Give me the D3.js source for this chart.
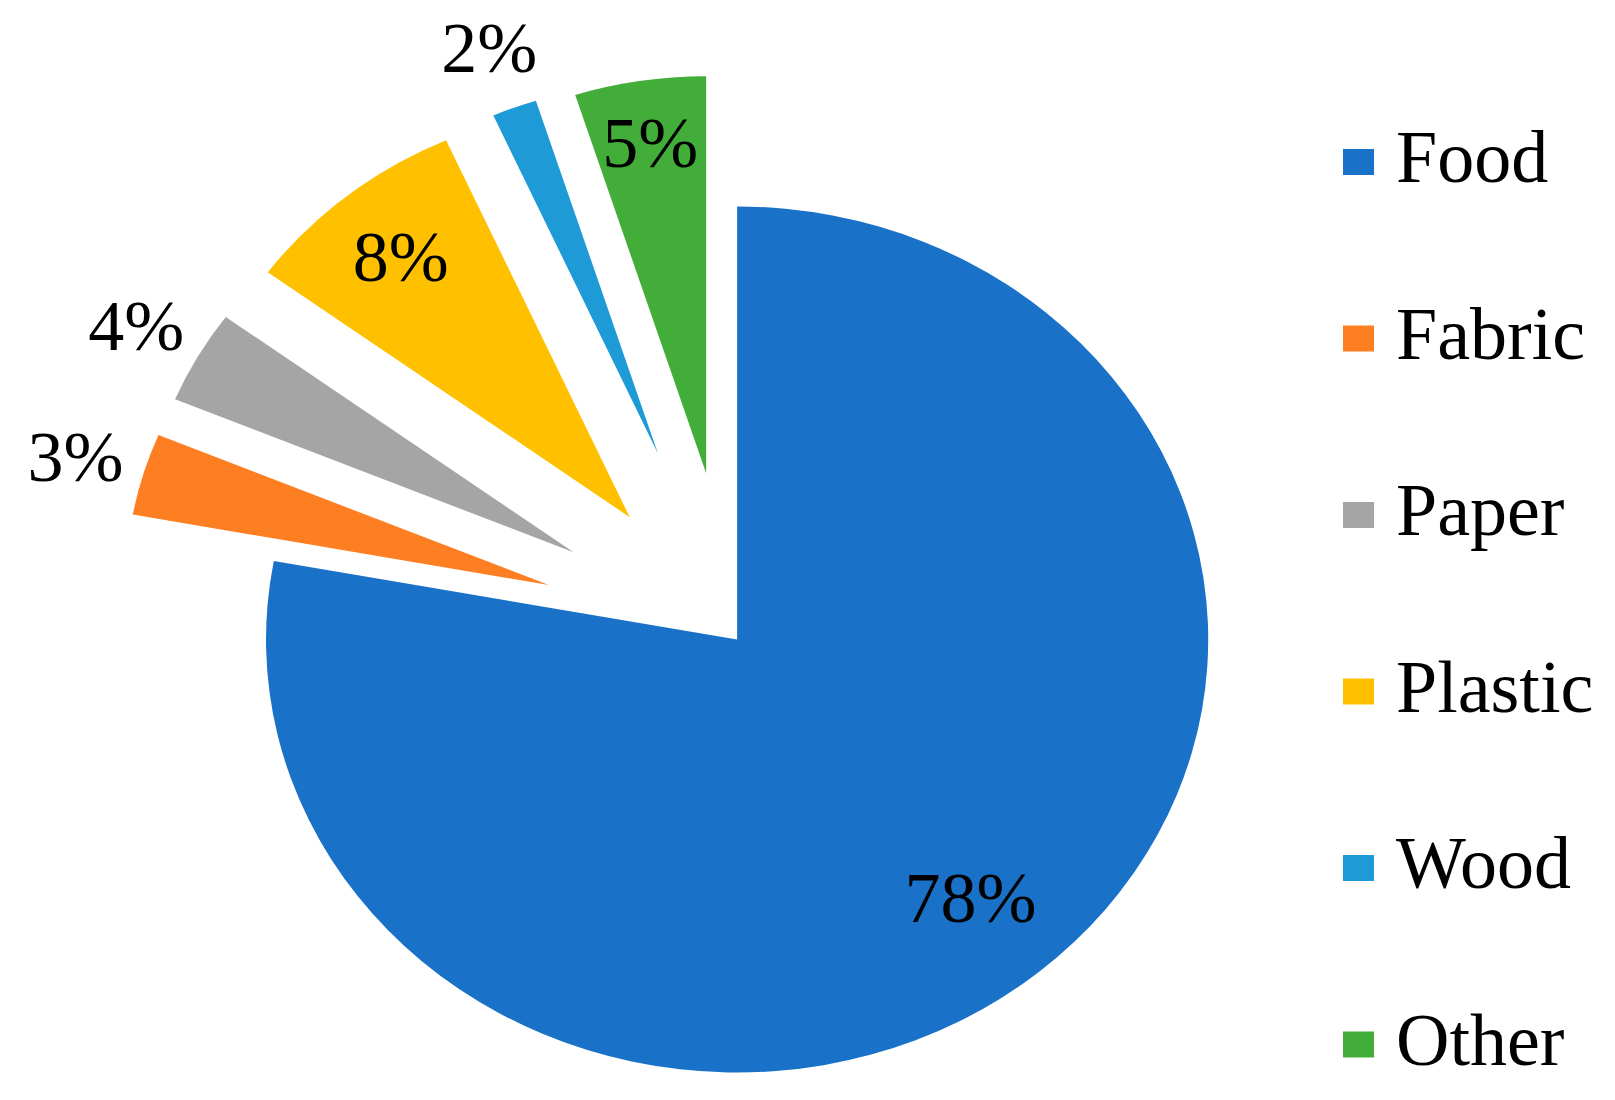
<!DOCTYPE html>
<html>
<head>
<meta charset="utf-8">
<title>Waste composition</title>
<script src="https://cdn.jsdelivr.net/npm/d3@7"></script>
<style>
  html, body { margin: 0; background: #ffffff; }
  svg { display: block; }
  .slice-label, .legend-label { font-family: "Liberation Serif", "Times New Roman", serif; fill: #000000; }
</style>
</head>
<body>
<div id="chart"></div>
<script>
// Chart data (shares, labels are rounded).
const categories = ["Food", "Fabric", "Paper", "Plastic", "Wood", "Other"];
const shares = [77.9, 3.4, 3.8, 8.2, 1.8, 4.9];
const sliceColors = ["#1971c8", "#fe7f22", "#a5a5a5", "#ffc000", "#1e9bd7", "#43ad3a"];

// Point explosion per slice (fraction of radius), and the smaller radius of the pulled-out slices.
const explodeRatio = [0.012, 0.409, 0.39, 0.351, 0.45, 0.379];
const radiusRatio = [1, 0.898, 0.917, 0.954, 0.855, 0.917];

(function drawExplodedPie() {
  "use strict";

  const width = 1615;
  const height = 1100;
  const center = { x: 733.5, y: 635.5 };
  const radius = 433;
  // The original picture is stretched horizontally.
  const stretchX = 1.088;

  const data = categories.map(function buildDatum(name, i) {
    return { name: name, value: shares[i], color: sliceColors[i], explode: explodeRatio[i], scale: radiusRatio[i] };
  });

  const pie = d3.pie()
    .sort(null)
    .startAngle(0)
    .value(function sliceValue(d) { return d.value; });
  const arcs = pie(data);

  const arc = d3.arc()
    .innerRadius(0)
    .outerRadius(function outer(d) { return radius * d.data.scale; });

  // Apex of a slice after explosion, in unstretched pie coordinates.
  function sliceApex(d) {
    const mid = (d.startAngle + d.endAngle) / 2;
    const dist = radius * d.data.explode;
    return [Math.sin(mid) * dist, -Math.cos(mid) * dist];
  }

  // Small slices get their label outside, the others inside at a fixed depth.
  function labelPoint(d) {
    const mid = (d.startAngle + d.endAngle) / 2;
    const apex = sliceApex(d);
    const r = radius * d.data.scale;
    const dist = d.data.value >= 4.5 ? radius * 0.774 : r + 65;
    return [
      center.x + stretchX * (apex[0] + Math.sin(mid) * dist),
      center.y + apex[1] - Math.cos(mid) * dist
    ];
  }

  const svg = d3.select("#chart")
    .append("svg")
    .attr("width", width)
    .attr("height", height)
    .attr("viewBox", "0 0 " + width + " " + height);

  const pieGroup = svg.append("g")
    .attr("transform", "translate(" + center.x + "," + center.y + ") scale(" + stretchX + ",1)");

  pieGroup.selectAll(".slice")
    .data(arcs)
    .enter()
    .append("path")
    .attr("class", "slice")
    .attr("transform", function offset(d) {
      const apex = sliceApex(d);
      return "translate(" + apex[0] + "," + apex[1] + ")";
    })
    .attr("d", arc)
    .attr("fill", function fill(d) { return d.data.color; });

  svg.selectAll(".slice-label")
    .data(arcs)
    .enter()
    .append("text")
    .attr("class", "slice-label")
    .attr("x", function lx(d) { return labelPoint(d)[0]; })
    .attr("y", function ly(d) { return labelPoint(d)[1]; })
    .attr("dy", "0.35em")
    .attr("text-anchor", "middle")
    .attr("font-size", 72)
    .text(function labelText(d) { return Math.round(d.data.value) + "%"; });

  // Legend on the right.
  const legendY = d3.scalePoint()
    .domain(categories)
    .range([162, 1044.5]);

  const legend = svg.append("g").attr("class", "legend");
  const items = legend.selectAll(".legend-item")
    .data(data)
    .enter()
    .append("g")
    .attr("class", "legend-item")
    .attr("transform", function place(d) { return "translate(1343," + legendY(d.name) + ")"; });

  items.append("rect")
    .attr("x", 0)
    .attr("y", -13)
    .attr("width", 31)
    .attr("height", 26)
    .attr("fill", function fill(d) { return d.color; });

  items.append("text")
    .attr("class", "legend-label")
    .attr("x", 53)
    .attr("y", 20)
    .attr("font-size", 74)
    .text(function name(d) { return d.name; });
})();
</script>
</body>
</html>
